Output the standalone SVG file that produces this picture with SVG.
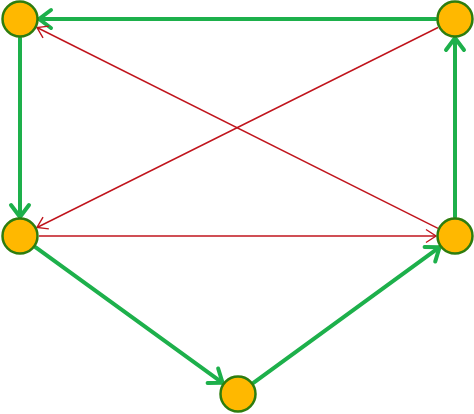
<svg xmlns="http://www.w3.org/2000/svg" width="474" height="414" viewBox="0 0 474 414">
<style>
.node{fill:#FFB800;stroke:#2E7D0E;stroke-width:2.5}
.g{stroke:#1DB04B;stroke-width:4;fill:none;stroke-linecap:round}
.r{stroke:#C0141C;stroke-width:1.4;fill:none}
</style>
<defs>
<marker id="ag" markerUnits="userSpaceOnUse" markerWidth="30" markerHeight="30" refX="0" refY="0" viewBox="-16 -15 20 30" orient="auto" overflow="visible">
<path d="M-12,-9 L0,0 L-12,9" fill="none" stroke="#1DB04B" stroke-width="4" stroke-linecap="round" stroke-linejoin="round"/>
</marker>
<marker id="ar" markerUnits="userSpaceOnUse" markerWidth="30" markerHeight="30" refX="0" refY="0" viewBox="-16 -15 20 30" orient="auto" overflow="visible">
<path d="M-10,-6.5 L0,0 L-10,6.5" fill="none" stroke="#C0141C" stroke-width="1.4"/>
</marker>
</defs>
<g id="connectors">
<line class="g" x1="436" y1="19" x2="39" y2="19" marker-end="url(#ag)"/>
<line class="g" x1="20" y1="38" x2="20" y2="217" marker-end="url(#ag)"/>
<line class="g" x1="35.4" y1="247.2" x2="222.6" y2="382.8" marker-end="url(#ag)"/>
<line class="g" x1="253.4" y1="382.8" x2="439.6" y2="247.2" marker-end="url(#ag)"/>
<line class="g" x1="455" y1="217" x2="455" y2="38" marker-end="url(#ag)"/>
<line class="r" x1="438" y1="228.4" x2="37" y2="27.5" marker-end="url(#ar)"/>
<line class="r" x1="438" y1="27.5" x2="37" y2="227.5" marker-end="url(#ar)"/>
<line class="r" x1="39" y1="236" x2="436" y2="236" marker-end="url(#ar)"/>
</g>
<g id="n-tl"><circle class="node" cx="20" cy="19" r="17.5"/></g>
<g id="n-tr"><circle class="node" cx="455" cy="19" r="17.5"/></g>
<g id="n-ml"><circle class="node" cx="20" cy="236" r="17.5"/></g>
<g id="n-mr"><circle class="node" cx="455" cy="236" r="17.5"/></g>
<g id="n-b"><circle class="node" cx="238" cy="394" r="17.5"/></g>
</svg>
